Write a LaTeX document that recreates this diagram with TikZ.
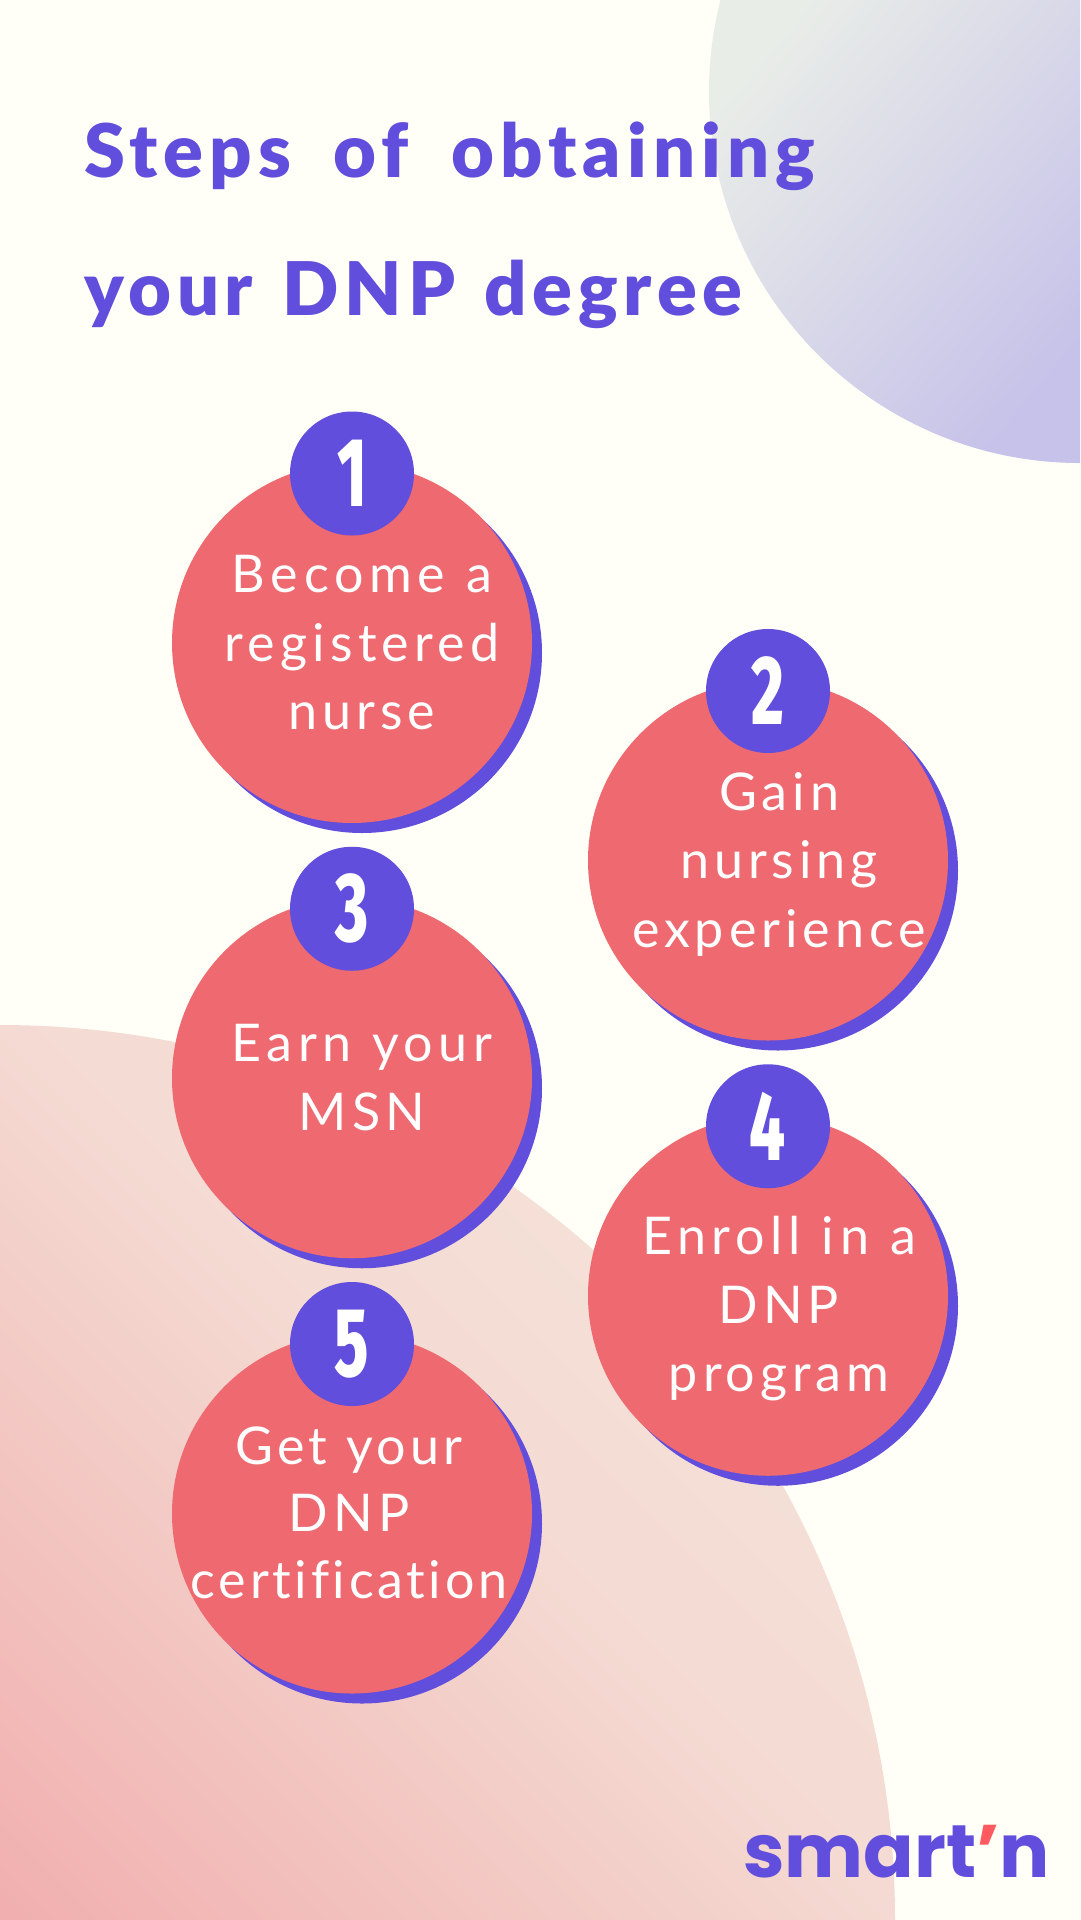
\documentclass[tikz,border=0pt]{standalone}
\usepackage{fontspec}
\setmainfont{Lato}
\newfontfamily\bodyf[LetterSpace=9.5,WordSpace=1.1,Ligatures=NoCommon]{Lato}
\newfontfamily\titlef[LetterSpace=7.7,WordSpace=1.3,Ligatures=NoCommon]{Lato Black}
\newfontfamily\titleg[LetterSpace=8.3,WordSpace=1.3,Ligatures=NoCommon]{Lato Black}
\newfontfamily\digitf{Fira Sans ExtraBold}
\newfontfamily\logof{Poppins Bold}
\definecolor{paper}{HTML}{FFFFF8}
\definecolor{violet}{HTML}{614EDC}
\definecolor{coral}{HTML}{EE6A70}
\definecolor{logored}{HTML}{FF5A5F}
\definecolor{trA}{HTML}{E9EDE8}
\definecolor{trB}{HTML}{C6C2E9}
\definecolor{blA}{HTML}{F1AEAE}
\definecolor{blM}{HTML}{F4DAD2}
\definecolor{blB}{HTML}{F5E4DC}
\pgfdeclareverticalshading{blgrad}{100bp}{color(0bp)=(blA); color(14.6bp)=(blA); color(50bp)=(blM); color(75bp)=(blB); color(100bp)=(blB)}
\tikzset{
  bigdisc/.style={circle,fill=coral,minimum size=360pt,inner sep=0pt,outer sep=0pt},
  shadowdisc/.style={circle,fill=violet,minimum size=360pt,inner sep=0pt,outer sep=0pt},
  numdisc/.style={circle,fill=violet,minimum size=124pt,inner sep=0pt,outer sep=0pt,text=white,
     font=\digitf\fontsize{98}{98}\selectfont},
  bodytext/.style={text=white,align=center,inner sep=0pt,font=\bodyf\fontsize{52}{68.5}\selectfont},
  titletext/.style={text=violet,anchor=base west,inner sep=0pt,font=\titlef\fontsize{74}{74}\selectfont},
}
\newcommand{\digitbox}[1]{\scalebox{.64}[1]{#1}}
\newcommand{\spaced}[2]{{\addfontfeature{LetterSpace=#1}#2}}
\begin{document}
\begin{tikzpicture}[x=1pt,y=-1pt]
\useasboundingbox (0,0) rectangle (1080,1920);
\fill[paper] (0,0) rectangle (1080,1920);
% background discs
\begin{scope}
 \clip (0,0) rectangle (1080,1920);
 \begin{scope}
  \clip (1080,92) circle[radius=371];
  \shade[shading=axis,left color=trA,right color=trB,shading angle=50] (700,-10) rectangle (1090,470);
 \end{scope}
 \begin{scope}
  \clip (0,1920) circle[radius=895];
  \shade[shading=blgrad,shading angle=-45] (-10,1015) rectangle (905,1930);
 \end{scope}
\end{scope}
% step 1
\node[shadowdisc] (s1) at (362,653) {};
\node[bigdisc] (b1) at (352,643) {};
\node[numdisc] (n1) at (352,473.5) {\digitbox{1}};
\node[bodytext] (t1) at (362,643) {\spaced{11}{Become a}\\\spaced{10.2}{registered}\\nurse};
% step 2
\node[shadowdisc] (s2) at (778,870.5) {};
\node[bigdisc] (b2) at (768,860.5) {};
\node[numdisc] (n2) at (768,691) {\digitbox{2}};
\node[bodytext] (t2) at (779,864) {Gain\\nursing\\experience};
% step 3
\node[shadowdisc] (s3) at (362,1088.25) {};
\node[bigdisc] (b3) at (352,1078.25) {};
\node[numdisc] (n3) at (352,908.75) {\digitbox{3}};
\node[bodytext] (t3) at (362,1077.5) {\spaced{10.5}{Earn your}\\MSN};
% step 4
\node[shadowdisc] (s4) at (778,1305.75) {};
\node[bigdisc] (b4) at (768,1295.75) {};
\node[numdisc] (n4) at (768,1126.25) {\digitbox{4}};
\node[bodytext] (t4) at (779,1309) {\spaced{11}{Enroll in a}\\DNP\\program};
% step 5
\node[shadowdisc] (s5) at (362,1523.5) {};
\node[bigdisc] (b5) at (352,1513.5) {};
\node[numdisc] (n5) at (352,1344) {\digitbox{5}};
\node[bodytext,font=\bodyf\fontsize{52}{67}\selectfont] (t5) at (349,1513) {\spaced{8}{Get your}\\DNP\\\spaced{7}{certification}};
% title
\node[titletext,font=\titleg\fontsize{74}{74}\selectfont] (title1) at (84,177) {Steps\hspace{12pt} of\hspace{12pt} obtaining};
\node[titletext] (title2) at (84,315) {your DNP degree};
% logo
\node[text=violet,anchor=base west,inner sep=0pt,font=\logof\fontsize{74.5}{75}\selectfont] (logo) at (743,1877) {smart{\color{logored}’}n};
\end{tikzpicture}
\end{document}
